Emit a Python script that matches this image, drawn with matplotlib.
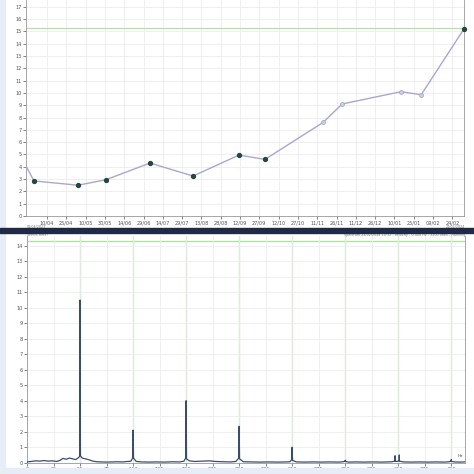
import matplotlib.pyplot as plt
import numpy as np

# --- dane: panel górny (trend) ---
dni = [-16.3, -10.1, 24.1, 45.9, 80.0, 113.5, 149.2, 169.4, 214.5, 229.3, 275.1, 290.7, 324.0]
wartosci = [4.07, 2.85, 2.5, 2.95, 4.3, 3.25, 4.95, 4.6, 7.6, 9.1, 10.1, 9.85, 15.2]
jasne = [False, False, False, False, False, False, False, False, True, True, True, True, False]
etykiety_dat = ["10/04", "25/04", "10/05", "30/05", "14/06", "29/06", "14/07", "29/07",
                "13/08", "28/08", "12/09", "27/09", "12/10", "27/10", "11/11", "26/11",
                "11/12", "26/12", "10/01", "25/01", "09/02", "24/02"]
prog_gorny = 15.25

# --- dane: panel dolny (widmo) ---
czestotliwosci = [0, 4, 8, 12, 16, 20, 24, 28, 31, 34, 37, 40, 43, 46, 48,
                  49.6, 49.8, 50.0, 50.2, 50.4, 52, 55, 58, 62, 66, 70, 75, 80, 85, 90, 95, 98,
                  99.6, 99.8, 100.0, 100.2, 100.4, 103, 108, 115, 122, 130, 137, 144, 148,
                  149.6, 149.8, 150.0, 150.2, 150.4, 153, 158, 165, 172, 178, 185, 192, 197,
                  199.6, 199.8, 200.0, 200.2, 200.4, 204, 212, 220, 228, 236, 244, 248,
                  249.6, 249.8, 250.0, 250.2, 250.4, 254, 262, 270, 278, 286, 294, 298,
                  299.8, 300.0, 300.2, 303, 310, 318, 326, 334, 340, 344,
                  346.8, 347.0, 347.2, 349, 350.8, 351.0, 351.2, 355, 362, 370, 378, 386, 394, 398,
                  399.8, 400.0, 400.2, 403, 408, 413]
amplitudy = [0.05, 0.08, 0.12, 0.1, 0.14, 0.1, 0.12, 0.08, 0.15, 0.28, 0.22, 0.3, 0.25, 0.2, 0.3,
             0.4, 4.0, 10.5, 3.9, 0.45, 0.3, 0.25, 0.2, 0.1, 0.06, 0.05, 0.04, 0.05, 0.06, 0.05, 0.08, 0.1,
             0.3, 1.65, 2.1, 1.6, 0.3, 0.08, 0.05, 0.04, 0.05, 0.04, 0.06, 0.05, 0.1,
             0.3, 2.8, 4.0, 2.7, 0.25, 0.12, 0.08, 0.1, 0.12, 0.08, 0.06, 0.05, 0.08,
             0.3, 1.7, 2.35, 1.6, 0.25, 0.06, 0.05, 0.04, 0.05, 0.04, 0.05, 0.06,
             0.2, 0.6, 1.0, 0.55, 0.15, 0.05, 0.04, 0.05, 0.04, 0.05, 0.04, 0.06,
             0.1, 0.15, 0.08, 0.04, 0.05, 0.04, 0.05, 0.04, 0.05, 0.06,
             0.1, 0.45, 0.1, 0.08, 0.12, 0.5, 0.1, 0.05, 0.04, 0.05, 0.04, 0.05, 0.04, 0.06,
             0.1, 0.2, 0.08, 0.05, 0.04, 0.05]
harmoniczne = [50, 100, 150, 200, 250, 300, 350, 400]
prog_dolny = 14.3


def main():
    fig = plt.figure(figsize=(4.74, 4.74), dpi=100)
    fig.patch.set_facecolor("white")

    # jasny pasek z lewej i na dole (zrzut ekranu)
    fig.patches.append(plt.Rectangle((0, 0), 0.011, 1, transform=fig.transFigure,
                                     color="#e6edf7", zorder=0))
    fig.patches.append(plt.Rectangle((0, 0), 1, 0.012, transform=fig.transFigure,
                                     color="#e6edf7", zorder=0))
    # ciemny pasek rozdzielający
    fig.patches.append(plt.Rectangle((0, 1 - 233 / 474), 1, 5 / 474, transform=fig.transFigure,
                                     color="#1f2b45", zorder=5))

    # --- panel górny ---
    ax1 = fig.add_axes([26 / 474, 1 - 216 / 474, 438 / 474, 216 / 474])
    ax1.plot(dni, wartosci, color="#a9a6d6", lw=1.0, zorder=3)
    for d, w, j in zip(dni[1:], wartosci[1:], jasne[1:]):
        if j:
            ax1.plot(d, w, "o", ms=2.8, mfc="#c8d3dc", mec="#9fb0bd", mew=0.6, zorder=4)
        else:
            ax1.plot(d, w, "o", ms=2.8, mfc="#24483f", mec="#24483f", zorder=4, clip_on=False)
    ax1.axhline(prog_gorny, color="#b5dfa8", lw=0.9, zorder=2)
    ax1.set_xlim(-16.3, 324)
    ax1.set_ylim(0, 17.55)
    ax1.set_xticks(np.arange(len(etykiety_dat)) * 15)
    ax1.set_xticklabels(etykiety_dat)
    ax1.set_yticks(np.arange(0, 18, 1))
    ax1.grid(color="#ececec", lw=0.6)
    ax1.tick_params(labelsize=3.6, length=2, width=0.5, colors="#555555", pad=1.2)
    for s in ax1.spines.values():
        s.set_color("#999999")
        s.set_linewidth(0.6)
    ax1.spines["top"].set_visible(False)

    fig.text(27 / 474, 1 - 226.6 / 474, "01/04/2023", fontsize=2.4, color="#777777", va="center")
    fig.text(465 / 474, 1 - 226.6 / 474, "24/02/2024", fontsize=2.4, color="#777777",
             va="center", ha="right")
    fig.text(27 / 474, 1 - 235 / 474, "(mm/s RMS)", fontsize=2.4, color="#777777", va="center")
    fig.text(465 / 474, 1 - 235 / 474,
             "Spectrum 24/02/2024 10:32 - Velocity - 0-400 Hz - 3200 lines - Hanning",
             fontsize=2.4, color="#777777", va="center", ha="right")

    # --- panel dolny ---
    ax2 = fig.add_axes([27 / 474, 1 - 462.7 / 474, 438 / 474, 226.7 / 474])
    for h in harmoniczne:
        ax2.axvline(h, color="#a8e49a", lw=0.9, zorder=1)
    ax2.axhline(prog_dolny, color="#a8e49a", lw=0.9, zorder=1)
    ax2.plot(czestotliwosci, amplitudy, color="#3b4d6e", lw=0.9, zorder=3)
    ax2.set_xlim(0, 413)
    ax2.set_ylim(0, 14.63)
    ax2.set_xticks(np.arange(0, 401, 25))
    ax2.set_yticks(np.arange(0, 15, 1))
    ax2.grid(color="#ececec", lw=0.6, zorder=0)
    ax2.tick_params(labelsize=3.6, length=2, width=0.5, colors="#555555", pad=1.2)
    for s in ax2.spines.values():
        s.set_color("#999999")
        s.set_linewidth(0.6)
    ax2.spines["top"].set_visible(False)
    ax2.text(0.995, 0.02, "Hz", transform=ax2.transAxes, fontsize=3.2, color="#555555",
             ha="right", va="bottom")

    fig.savefig("out.png", dpi=100)


if __name__ == '__main__':
    main()
